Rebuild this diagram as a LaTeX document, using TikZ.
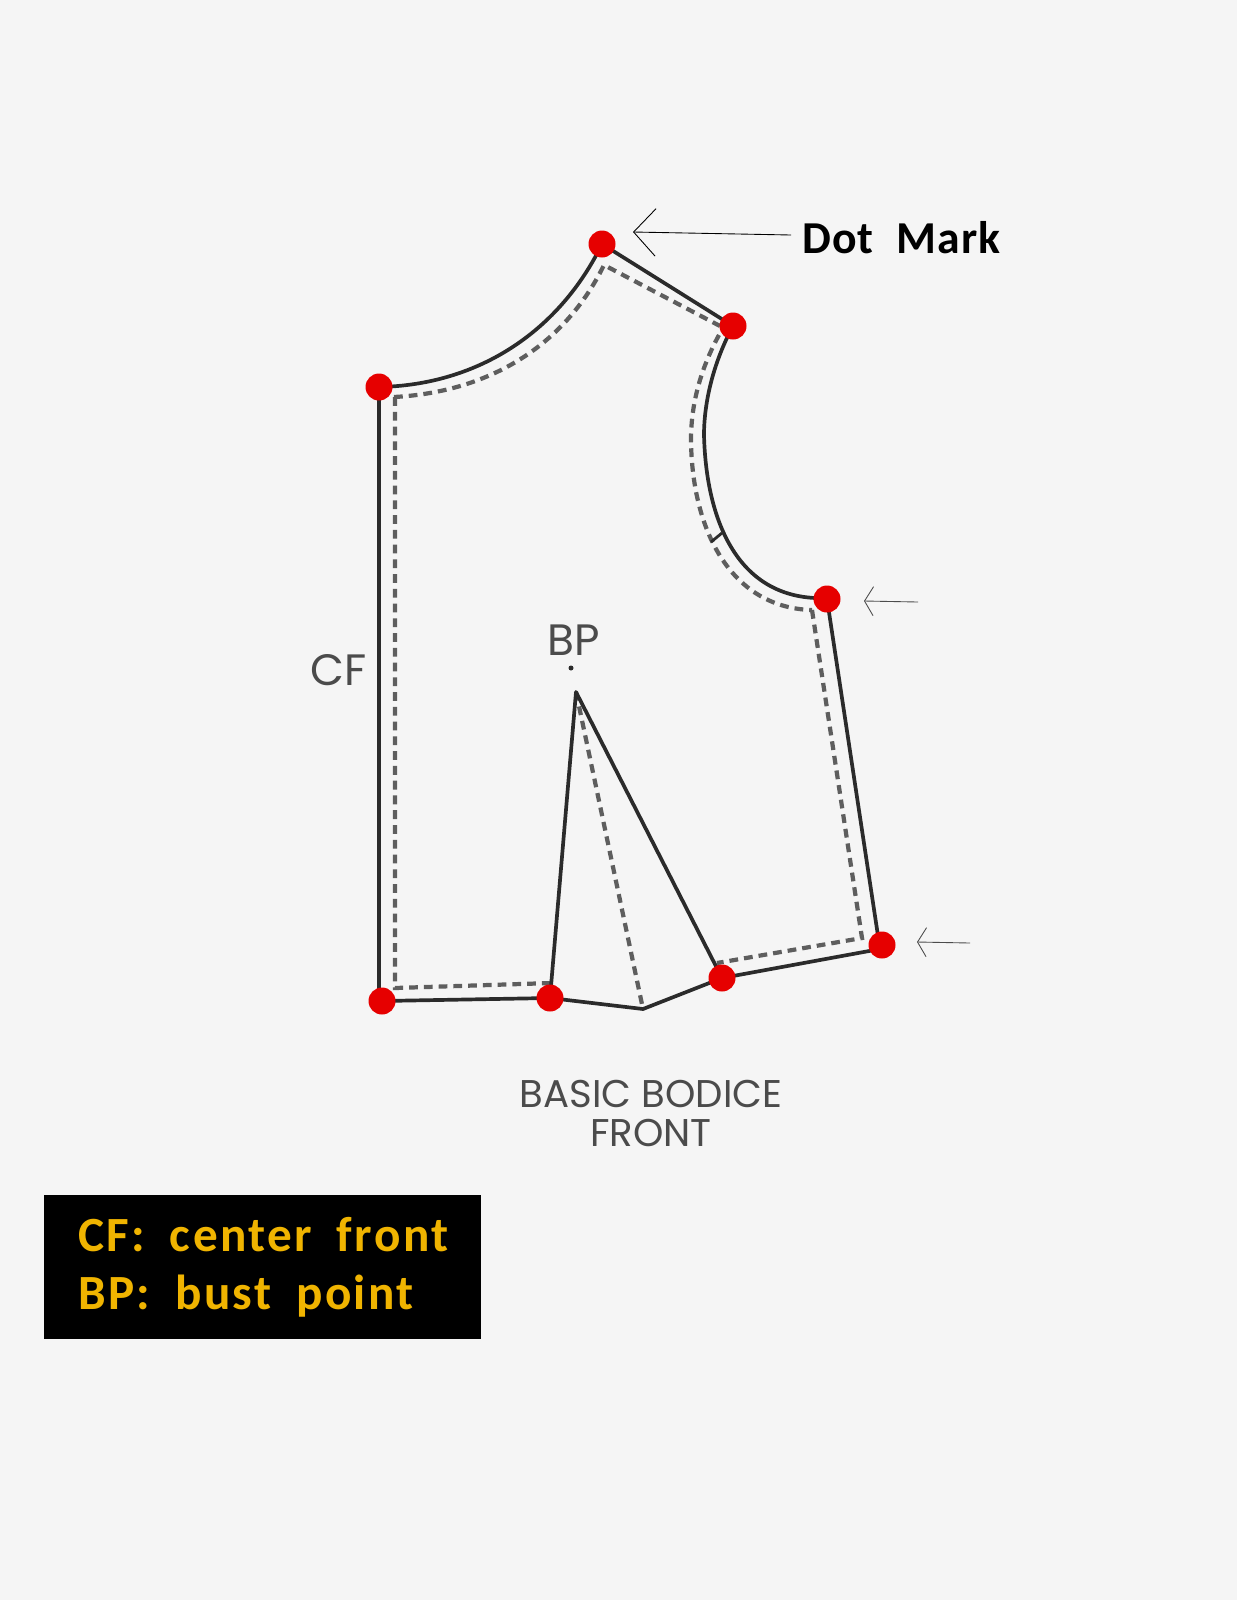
\documentclass[tikz,border=0pt]{standalone}
\usepackage{fontspec}
\newfontfamily\handfont[LetterSpace=5]{Carlito Bold}
\newfontfamily\markfont[LetterSpace=2.5,WordSpace=2]{Carlito Bold}
\newfontfamily\roundfont{Poppins}
\usetikzlibrary{arrows.meta}
\definecolor{paper}{HTML}{F5F5F5}
\definecolor{ink}{HTML}{2B2B2B}
\definecolor{stitch}{HTML}{5E5E5E}
\definecolor{dotred}{HTML}{E60000}
\definecolor{keygold}{HTML}{F0B400}

\begin{document}
\begin{tikzpicture}[x=0.02cm, y=-0.02cm
    , cut line/.style={ink, line width=2.1pt, line join=round}
    , sew line/.style={stitch, line width=2.4pt, dash pattern=on 5pt off 3.4pt}
    , red dot/.style={circle, fill=dotred, inner sep=0pt, minimum size=0.54cm}
    , big pointer/.style={black, line width=0.5pt, -{Straight Barb[length=12.5pt, width=27pt, line width=0.5pt]}}
    , small pointer/.style={black!70, line width=0.5pt, -{Straight Barb[length=5pt, width=16.5pt, line width=0.5pt]}}
    , pattern label/.style={text=ink!85, font=\roundfont\fontsize{22}{26}\selectfont, inner sep=0pt}
    , big label/.style={pattern label, font=\roundfont\fontsize{25}{30}\selectfont}
    ]
    \fill[paper] (0,0) rectangle (1237,1600);

    \coordinate (neck) at (602,244);
    \coordinate (shoulder) at (733,326);
    \coordinate (cf top) at (379,387);
    \coordinate (underarm) at (827,599);
    \coordinate (side hem) at (880,949);
    \coordinate (dart right) at (722,978);
    \coordinate (dart left) at (550,998);
    \coordinate (cf hem) at (382,1001);
    \coordinate (dart tip) at (643,1009);
    \coordinate (dart apex) at (576,692);

    % seam allowance
    \draw[sew line] (394,397) .. controls (490,392) and (565,345) .. (604,265) -- (720,326);
    \draw[sew line] (719,335) .. controls (700,370) and (691,405) .. (691,440) .. controls (692,535) and (734,608) .. (812,610);
    \draw[sew line] (812,610) -- (862,938) -- (717,963);
    \draw[sew line] (395,397) -- (395,988) -- (552,983);
    \draw[sew line] (dart apex) -- (dart tip);

    % cut line
    \draw[cut line] (cf top) .. controls (480,385) and (560,330) .. (neck) -- (shoulder);
    \draw[cut line] (shoulder) .. controls (712,365) and (704,405) .. (704,435) .. controls (706,515) and (734,594) .. (815,598) -- (underarm);
    \draw[cut line] (underarm) -- (side hem) -- (dart right) -- (dart tip) -- (dart left) -- (cf hem);
    \draw[cut line, line width=2.6pt] (cf top) -- (cf top |- cf hem) -- (cf hem);
    \draw[cut line] (dart left) -- (dart apex) -- (dart right);
    \draw[cut line, line width=1.6pt] (722,533) -- (711,542);

    \node[red dot] (neck dot) at (neck) {};
    \node[red dot] (shoulder dot) at (shoulder) {};
    \node[red dot] (cf top dot) at (cf top) {};
    \node[red dot] (underarm dot) at (underarm) {};
    \node[red dot] (side hem dot) at (882,945) {};
    \node[red dot] (dart right dot) at (dart right) {};
    \node[red dot] (dart left dot) at (dart left) {};
    \node[red dot] (cf hem dot) at (cf hem) {};

    \node[circle, fill=ink, inner sep=0pt, minimum size=0.1cm] (bp dot) at (571,668) {};
    \node[big label] (bp label) at (574,640) {BP};
    \node[big label] (cf label) at (339,670) {CF};
    \node[pattern label] (title one) at (651,1094) {BASIC BODICE};
    \node[pattern label] (title two) at (651,1133) {FRONT};

    \node[anchor=base west, inner sep=0pt, font=\markfont\fontsize{26}{31}\selectfont] (dot mark) at (802,253) {Dot Mark};

    \coordinate (mark tail) at (791,235);
    \coordinate (mark tip) at (633,232);
    \coordinate (underarm tip) at (864,601);
    \coordinate (underarm tail) at (918,602);
    \coordinate (hem tip) at (917,942);
    \coordinate (hem tail) at (970,943);
    \draw[big pointer] (mark tail) -- (mark tip);
    \draw[small pointer] (underarm tail) -- (underarm tip);
    \draw[small pointer] (hem tail) -- (hem tip);

    \node[anchor=north west, fill=black, text=keygold, inner xsep=0.68cm, inner ysep=0pt
      , minimum width=8.74cm, minimum height=2.88cm, text width=7.38cm, align=left
      , font=\handfont\fontsize{28}{33}\selectfont] (key box) at (44,1195)
      {\spaceskip=14pt CF: center front\\BP: bust point};
\end{tikzpicture}
\end{document}
